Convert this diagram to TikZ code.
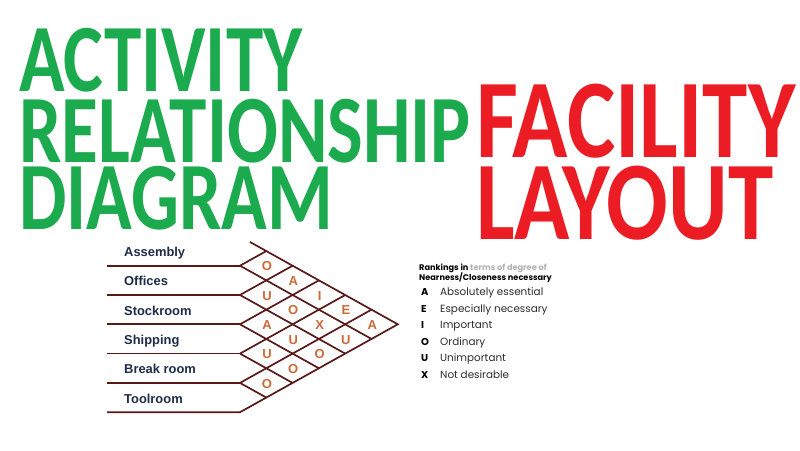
\documentclass[tikz,border=0pt]{standalone}
\usepackage{fontspec}
\usetikzlibrary{calc}
\setmainfont{Liberation Sans}
\newfontfamily\greenfont{Carlito}[FakeStretch=0.78]
\newfontfamily\redfont{Carlito}[FakeStretch=0.815]
\newfontfamily\legendfont{Poppins}
\definecolor{titlegreen}{RGB}{28,170,78}
\definecolor{titlered}{RGB}{236,28,36}
\definecolor{linebrown}{RGB}{88,26,24}
\definecolor{deptblue}{RGB}{30,44,74}
\definecolor{rankorange}{RGB}{206,104,56}
\definecolor{legendgray}{RGB}{45,45,45}

\begin{document}
\begin{tikzpicture}[x=1pt, y=-1pt,
	grid/.style={draw=linebrown, line width=1.7pt},
	dept/.style={anchor=base west, inner sep=0, text=deptblue, font=\bfseries\fontsize{12.9}{14}\selectfont},
	rank/.style={inner sep=0, text=rankorange, font=\bfseries\fontsize{13}{14}\selectfont},
	key/.style={anchor=base west, inner sep=0, text=black, font=\legendfont\bfseries\fontsize{10}{11}\selectfont},
	meaning/.style={anchor=base west, inner sep=0, text=legendgray, font=\legendfont\fontsize{10.4}{11}\selectfont}]
		\useasboundingbox[fill=white] (0,0) rectangle (800,450);
		% titles
		\node[anchor=base west, inner sep=0, text=titlegreen, font=\greenfont\bfseries\fontsize{96.5}{96}\selectfont] (act) at (19,91) {ACTIVITY};
		\node[anchor=base west, inner sep=0, text=titlegreen, font=\greenfont\bfseries\fontsize{96.5}{96}\selectfont] (rel) at (19,162) {RELATIONSHIP};
		\node[anchor=base west, inner sep=0, text=titlegreen, font=\greenfont\bfseries\fontsize{96.5}{96}\selectfont] (dia) at (19,229) {DIAGRAM};
		\node[anchor=base west, inner sep=0, text=titlered, font=\redfont\bfseries\fontsize{112}{112}\selectfont] (fac) at (476,157.5) {FACILITY};
		\node[anchor=base west, inner sep=0, text=titlered, font=\redfont\bfseries\fontsize{112}{112}\selectfont] (lay) at (476,239) {LAYOUT};
		% chart
		\coordinate (v0) at (240,236.4);
		\coordinate (v1) at (240,265.7);
		\coordinate (v2) at (240,295);
		\coordinate (v3) at (240,324.3);
		\coordinate (v4) at (240,353.6);
		\coordinate (v5) at (240,382.9);
		\coordinate (v6) at (240,412.2);
		\coordinate (apex) at (397.8,324.3);
		\coordinate (top) at ($(v0)!0.063!(apex)$);
		\draw[grid] (107,265.7) -- (v1);
		\draw[grid] (107,295) -- (v2);
		\draw[grid] (107,324.3) -- (v3);
		\draw[grid] (107,353.6) -- (v4);
		\draw[grid] (107,382.9) -- (v5);
		\draw[grid] (107,412.2) -- (v6) -- (apex) -- (top);
		\draw[grid] (v1) -- ++(131.5,73.25);
		\draw[grid] (v2) -- ++(105.2,58.6);
		\draw[grid] (v3) -- ++(78.9,43.95);
		\draw[grid] (v4) -- ++(52.6,29.3);
		\draw[grid] (v5) -- ++(26.3,14.65);
		\draw[grid] (v1) -- ++(26.3,-14.65);
		\draw[grid] (v2) -- ++(52.6,-29.3);
		\draw[grid] (v3) -- ++(78.9,-43.95);
		\draw[grid] (v4) -- ++(105.2,-58.6);
		\draw[grid] (v5) -- ++(131.5,-73.25);
		\node[dept] (assembly) at (124,256.5) {Assembly};
		\node[dept] (offices) at (124,285.8) {Offices};
		\node[dept] (stock) at (124,315.1) {Stockroom};
		\node[dept] (shipping) at (124,344.4) {Shipping};
		\node[dept] (break) at (124,373.7) {Break room};
		\node[dept] (tool) at (124,403) {Toolroom};
		\node[rank] (r12) at (267,266.5) {O};
		\node[rank] (r13) at (293.3,281.2) {A};
		\node[rank] (r14) at (319.6,295.8) {I};
		\node[rank] (r15) at (345.9,310.5) {E};
		\node[rank] (r16) at (372.2,325.1) {A};
		\node[rank] (r23) at (267,295.8) {U};
		\node[rank] (r24) at (293.3,310.5) {O};
		\node[rank] (r25) at (319.6,325.1) {X};
		\node[rank] (r26) at (345.9,339.8) {U};
		\node[rank] (r34) at (267,325.1) {A};
		\node[rank] (r35) at (293.3,339.8) {U};
		\node[rank] (r36) at (319.6,354.4) {O};
		\node[rank] (r45) at (267,354.4) {U};
		\node[rank] (r46) at (293.3,369.1) {O};
		\node[rank] (r56) at (267,383.7) {O};
		% legend
		\node[anchor=base west, inner sep=0, text=black, font=\legendfont\bfseries\fontsize{8.2}{9}\selectfont] (head1) at (419,270.5) {Rankings in \textcolor{gray!60}{terms of degree of}};
		\node[anchor=base west, inner sep=0, text=black, font=\legendfont\bfseries\fontsize{8.2}{9}\selectfont] (head2) at (419,280) {Nearness/Closeness necessary};
		\node[key] (ka) at (421,295.7) {A};
		\node[key] (ke) at (421,312.2) {E};
		\node[key] (ki) at (421,328.7) {I};
		\node[key] (ko) at (421,345.2) {O};
		\node[key] (ku) at (421,361.7) {U};
		\node[key] (kx) at (421,378.2) {X};
		\node[meaning] (ma) at (440,295.7) {Absolutely essential};
		\node[meaning] (me) at (440,312.2) {Especially necessary};
		\node[meaning] (mi) at (440,328.7) {Important};
		\node[meaning] (mo) at (440,345.2) {Ordinary};
		\node[meaning] (mu) at (440,361.7) {Unimportant};
		\node[meaning] (mx) at (440,378.2) {Not desirable};
\end{tikzpicture}
\end{document}
